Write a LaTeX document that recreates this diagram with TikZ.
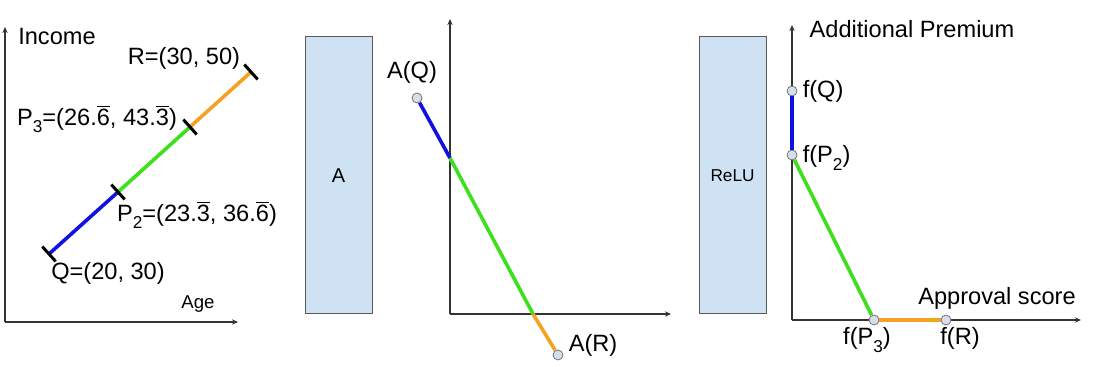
\documentclass[tikz,border=0pt]{standalone}
\usepackage{fontspec}
\setmainfont{Liberation Sans}
\usetikzlibrary{positioning,arrows.meta}
\definecolor{segblue}{HTML}{1212E0}
\definecolor{seggreen}{HTML}{3CE01C}
\definecolor{segorange}{HTML}{F5A224}
\definecolor{boxfill}{HTML}{CFE2F3}
\definecolor{boxline}{HTML}{5A5A5A}
\definecolor{dotfill}{HTML}{D3DFEA}
\newcommand{\repdigit}[1]{$\overline{\mbox{#1}}$}
\newcommand{\lowsub}[1]{\raisebox{-3.6pt}{\fontsize{8.6pt}{10pt}\selectfont #1}}

\begin{document}
\begin{tikzpicture}[x=0.5pt, y=-0.5pt,
      font=\fontsize{11.8pt}{14pt}\selectfont,
      lbl/.style={inner sep=0pt},
      axis/.style={draw=black!80, line width=0.55pt, -{Stealth[length=3pt,width=2.6pt]}},
      seg/.style={line width=1.8pt},
      tickmark/.style={fill=black, inner sep=0pt, minimum width=1.5pt, minimum height=10pt, rotate=42},
      dot/.style={circle, draw=black!55, fill=dotfill, line width=0.4pt, inner sep=0pt, minimum size=5pt},
      layer/.style={draw=boxline, fill=boxfill, line width=0.5pt, minimum width=33.5pt, minimum height=138.5pt}]
    \useasboundingbox (0,0) rectangle (1106,367);

    % input space
    \coordinate (o1) at (5,322);
    \coordinate (y1) at (5,27);
    \coordinate (x1) at (238,322);
    \draw[axis] (o1) -- (y1);
    \draw[axis] (o1) -- (x1);
    \coordinate (Q) at (49,254);
    \coordinate (P2) at (118,192);
    \coordinate (P3) at (190,127);
    \coordinate (R) at (251,72);
    \draw[seg, segblue] (Q) -- (P2);
    \draw[seg, seggreen] (P2) -- (P3);
    \draw[seg, segorange] (P3) -- (R);
    \foreach \p in {Q,P2,P3,R}
      \node[tickmark] (t\p) at (\p) {};
    \node[lbl] (income) at (57,37) {Income};
    \node[lbl] (rlab) at (184,58) {R=(30, 50)};
    \node[lbl] (p3lab) at (97,119) {P\lowsub{3}=(26.\repdigit{6}, 43.\repdigit{3})};
    \node[lbl] (p2lab) at (197,215) {P\lowsub{2}=(23.\repdigit{3}, 36.\repdigit{6})};
    \node[lbl] (qlab) at (108,273) {Q=(20, 30)};
    \node[lbl, font=\fontsize{9.3pt}{11pt}\selectfont] (age) at (198,304) {Age};

    % layers
    \node[layer, font=\fontsize{10pt}{12pt}\selectfont] (boxA) at (338.5,175.5) {A};
    \node[layer, font=\fontsize{8.6pt}{10pt}\selectfont] (relu) at (732.5,175.5) {ReLU};

    % after A
    \coordinate (o2) at (450,314);
    \coordinate (y2) at (450,19);
    \coordinate (x2) at (671,314);
    \draw[axis] (o2) -- (y2);
    \draw[axis] (o2) -- (x2);
    \node[dot] (aQ) at (417,98) {};
    \coordinate (aP2) at (450,158);
    \coordinate (aP3) at (533,314);
    \node[dot] (aR) at (558,355) {};
    \draw[seg, segblue] (aQ) -- (aP2);
    \draw[seg, seggreen] (aP2) -- (aP3);
    \draw[seg, segorange] (aP3) -- (aR);
    \node[lbl] (aqlab) at (412,72) {A(Q)};
    \node[lbl] (arlab) at (593,345) {A(R)};

    % after ReLU
    \coordinate (o3) at (792,320);
    \coordinate (y3) at (792,25);
    \coordinate (x3) at (1081,320);
    \draw[axis] (o3) -- (y3);
    \draw[axis] (o3) -- (x3);
    \node[dot] (fQ) at (792,91) {};
    \node[dot] (fP2) at (792,155) {};
    \node[dot] (fP3) at (874,320) {};
    \node[dot] (fR) at (946,320) {};
    \draw[seg, segblue] (fQ) -- (fP2);
    \draw[seg, seggreen] (fP2) -- (fP3);
    \draw[seg, segorange] (fP3) -- (fR);
    \node[lbl] (premium) at (912,29) {Additional Premium};
    \node[lbl] (score) at (997,298) {Approval score};
    \node[lbl, right=2.5pt of fQ] (fqlab) {f(Q)};
    \node[lbl, right=2.5pt of fP2, yshift=-1.5pt] (fp2lab) {f(P\lowsub{2})};
    \node[lbl] (fp3lab) at (867,340) {f(P\lowsub{3})};
    \node[lbl] (frlab) at (960,338) {f(R)};
\end{tikzpicture}
\end{document}
